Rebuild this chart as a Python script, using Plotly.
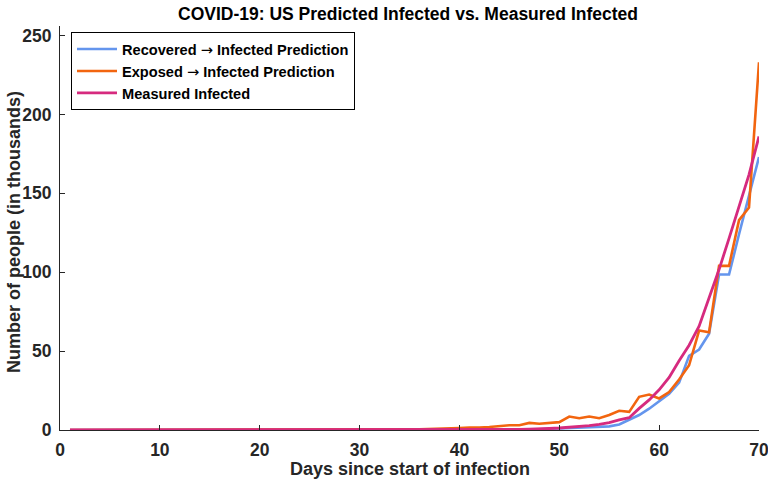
import plotly.graph_objects as go

days = list(range(1, 71))

measured = [0.001, 0.001, 0.002, 0.002, 0.005, 0.005, 0.005, 0.005, 0.005, 0.006,
            0.008, 0.008, 0.011, 0.011, 0.011, 0.011, 0.011, 0.011, 0.011, 0.011,
            0.012, 0.012, 0.013, 0.013, 0.013, 0.013, 0.013, 0.013, 0.013, 0.013,
            0.015, 0.015, 0.015, 0.051, 0.051, 0.057, 0.058, 0.060, 0.068, 0.074,
            0.098, 0.118, 0.149, 0.217, 0.262, 0.402, 0.518, 0.583, 0.959, 1.281,
            1.663, 2.179, 2.726, 3.499, 4.632, 6.421, 7.786, 13.68, 19.10, 25.49,
            33.28, 43.85, 53.74, 65.78, 83.84, 101.66, 121.47, 140.91, 161.83, 186.0]

recovered_pred = [0, 0, 0, 0, 0, 0, 0, 0, 0, 0,
                  0, 0, 0, 0, 0, 0, 0, 0, 0, 0,
                  0, 0, 0, 0, 0, 0, 0, 0, 0, 0,
                  0.01, 0.01, 0.01, 0.03, 0.04, 0.05, 0.05, 0.06, 0.06, 0.07,
                  0.08, 0.1, 0.12, 0.16, 0.2, 0.3, 0.4, 0.5, 0.7, 1.0,
                  1.2, 1.5, 1.8, 2.0, 2.3, 3.5, 6.5, 9.5, 13.5, 18.5,
                  23.0, 30.0, 47.0, 51.0, 61.0, 98.5, 98.5, 124.0, 149.0, 173.0]

exposed_pred = [0, 0, 0, 0, 0, 0, 0, 0, 0, 0,
                0, 0, 0, 0, 0, 0, 0, 0, 0, 0,
                0, 0, 0, 0, 0, 0, 0, 0, 0, 0,
                0.1, 0.15, 0.2, 0.3, 0.4, 0.5, 0.6, 0.8, 0.9, 1.3,
                1.6, 1.5, 1.9, 2.5, 3.0, 3.0, 4.5, 4.0, 4.3, 5.0,
                8.5, 7.5, 8.5, 7.5, 9.5, 12.2, 11.5, 21.0, 22.5, 20.0,
                24.0, 32.0, 41.0, 63.0, 62.0, 104.0, 104.0, 133.0, 141.0, 233.0]

x_ticks = [0, 10, 20, 30, 40, 50, 60, 70]
y_ticks = [0, 50, 100, 150, 200, 250]

font_family = "Liberation Sans, Arial, sans-serif"
arrow = "<span style=\"font-family:'DejaVu Sans';font-weight:normal\">\u2192</span>"

fig = go.Figure()
fig.add_trace(go.Scatter(x=days, y=recovered_pred, mode="lines",
                         name=f"<b>Recovered {arrow} Infected Prediction</b>",
                         line=dict(color="#6495ED", width=2.6)))
fig.add_trace(go.Scatter(x=days, y=exposed_pred, mode="lines",
                         name=f"<b>Exposed {arrow} Infected Prediction</b>",
                         line=dict(color="#F2650F", width=2.6)))
fig.add_trace(go.Scatter(x=days, y=measured, mode="lines",
                         name="<b>Measured Infected</b>",
                         line=dict(color="#D62A7E", width=2.8)))

axis_color = "#262626"

fig.update_layout(
    width=768, height=480,
    margin=dict(l=60, r=9, t=26, b=50, autoexpand=False),
    paper_bgcolor="white", plot_bgcolor="white",
    font=dict(family=font_family, color=axis_color),
    title=dict(text="<b>COVID-19: US Predicted Infected vs. Measured Infected</b>",
               x=408 / 768, xanchor="center", y=1 - 14 / 480, yanchor="middle",
               font=dict(size=17.5, color="black")),
    showlegend=True,
    legend=dict(x=(71 - 60) / 699, y=1 - (32 - 26) / 404, xanchor="left", yanchor="top",
                bgcolor="white", bordercolor="black", borderwidth=1,
                font=dict(size=14.6, color="black"),
                tracegroupgap=0, itemwidth=40),
    xaxis=dict(range=[0, 70], tickvals=x_ticks, ticktext=[f"<b>{v}</b>" for v in x_ticks],
               automargin=False, ticklabeloverflow="allow", ticklabelstandoff=4,
               showline=True, linecolor=axis_color, linewidth=1,
               ticks="inside", ticklen=5, tickcolor=axis_color,
               showgrid=False, zeroline=False,
               tickfont=dict(size=17.5, color=axis_color)),
    yaxis=dict(range=[0, 256], tickvals=y_ticks, ticktext=[f"<b>{v}</b>" for v in y_ticks],
               automargin=False, ticklabeloverflow="allow", ticklabelstandoff=4,
               showline=True, linecolor=axis_color, linewidth=1,
               ticks="inside", ticklen=5, tickcolor=axis_color,
               showgrid=False, zeroline=False,
               tickfont=dict(size=17.5, color=axis_color)),
    annotations=[
        dict(text="<b>Days since start of infection</b>", xref="paper", yref="paper",
             x=0.5, y=0, xanchor="center", yanchor="middle", yshift=-39,
             showarrow=False, font=dict(size=18, color=axis_color)),
        dict(text="<b>Number of people (in thousands)</b>", xref="paper", yref="paper",
             x=0, y=0.49, xanchor="center", yanchor="middle", xshift=-46, textangle=-90,
             showarrow=False, font=dict(size=18, color=axis_color)),
    ],
)

fig.write_html("out.html", config={"displayModeBar": False},
               post_script="document.body.style.margin='0';")
